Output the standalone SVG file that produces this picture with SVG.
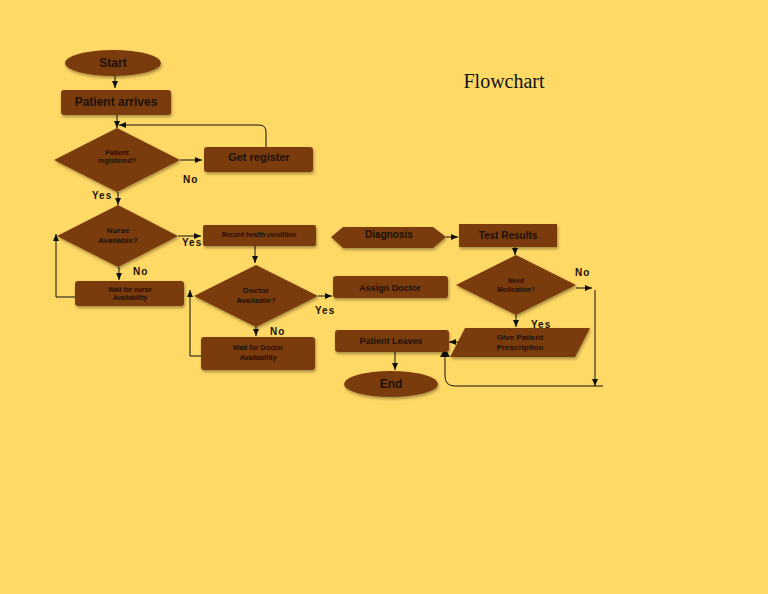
<svg xmlns="http://www.w3.org/2000/svg" width="768" height="594" viewBox="0 0 768 594">
<style>
.s{fill:#7a3b10;filter:url(#sh)}
.t{font-family:"Liberation Sans",Arial,sans-serif;font-weight:bold;fill:#1a1008;text-anchor:middle}
.l{font-family:"Liberation Sans",Arial,sans-serif;font-weight:bold;fill:#1a1008;font-size:10px;letter-spacing:1px}
.c{fill:none;stroke:#111;stroke-width:1}
</style>
<defs>
<marker id="a" markerWidth="8" markerHeight="8" refX="7" refY="4" orient="auto" markerUnits="userSpaceOnUse"><path d="M0,1 L7,4 L0,7Z" fill="#111"/></marker>
<filter id="sh" x="-10%" y="-10%" width="130%" height="140%"><feDropShadow dx="1" dy="2" stdDeviation="1.5" flood-color="#000" flood-opacity="0.35"/></filter>
</defs>
<rect width="768" height="594" fill="#ffd966"/>
<text x="504" y="88" font-family="Liberation Serif,serif" font-size="20" text-anchor="middle" fill="#111">Flowchart</text>
<g id="connectors">
<path class="c" d="M115,76 V88" marker-end="url(#a)"/>
<path class="c" d="M117,115 V128" marker-end="url(#a)"/>
<path class="c" stroke-width="2" d="M266,147 V132 Q266,125 259,125 H119" marker-end="url(#a)"/>
<path class="c" d="M180,160 H202" marker-end="url(#a)"/>
<path class="c" d="M118,192 V205" marker-end="url(#a)"/>
<path class="c" d="M178,236 H201" marker-end="url(#a)"/>
<path class="c" d="M119,267 V280" marker-end="url(#a)"/>
<path class="c" stroke-width="1.3" d="M75,297 H56 V234" marker-end="url(#a)"/>
<path class="c" d="M255,246 V263" marker-end="url(#a)"/>
<path class="c" d="M318,296 H332" marker-end="url(#a)"/>
<path class="c" d="M256,327 V336" marker-end="url(#a)"/>
<path class="c" d="M201,356 H190 V290" marker-end="url(#a)"/>
<path class="c" d="M446,237 H458" marker-end="url(#a)"/>
<path class="c" d="M515,247 V255" marker-end="url(#a)"/>
<path class="c" d="M576,288 H592" marker-end="url(#a)"/>
<path class="c" d="M595,290 V386" marker-end="url(#a)"/>
<path class="c" d="M516,315 V327" marker-end="url(#a)"/>
<path class="c" d="M462,342 H449" marker-end="url(#a)"/>
<path class="c" stroke-width="3" d="M603,386 H455 Q445,386 445,376 V352"/>
<path d="M445,348 L440,357 L450,357Z" fill="#111"/>
<path class="c" d="M395,352 V370" marker-end="url(#a)"/>
</g>
<g id="start"><ellipse class="s" cx="113" cy="63" rx="48" ry="13"/><text class="t" x="113" y="67" font-size="12">Start</text></g>
<g id="arrives"><rect class="s" x="61" y="90" width="110" height="25" rx="3"/><text class="t" x="116" y="106" font-size="12">Patient arrives</text></g>
<g id="registered"><polygon class="s" points="117,128 180,160 117,192 54,160"/><text class="t" x="117" y="155" font-size="7">Patient</text><text class="t" x="117" y="163" font-size="7">registered?</text></g>
<g id="getreg"><rect class="s" x="204" y="147" width="109" height="25" rx="3"/><text class="t" x="259" y="161" font-size="11">Get register</text></g>
<g id="nurse"><polygon class="s" points="118,205 178,236 118,267 57,236"/><text class="t" x="118" y="233" font-size="8">Nurse</text><text class="t" x="118" y="243" font-size="8">Available?</text></g>
<g id="record"><rect class="s" x="203" y="225" width="113" height="21" rx="2"/><text class="t" x="259" y="237" font-size="6.5">Record health condition</text></g>
<g id="waitnurse"><rect class="s" x="75" y="281" width="109" height="25" rx="3"/><text class="t" x="130" y="292" font-size="6.5">Wait for nurse</text><text class="t" x="130" y="300" font-size="6.5">Availability</text></g>
<g id="doctor"><polygon class="s" points="256,265 318,296 256,327 194,296"/><text class="t" x="256" y="293" font-size="8">Doctor</text><text class="t" x="256" y="303" font-size="8">Available?</text></g>
<g id="assign"><rect class="s" x="333" y="276" width="115" height="22" rx="3"/><text class="t" x="390" y="291" font-size="9">Assign Doctor</text></g>
<g id="waitdoc"><rect class="s" x="201" y="337" width="114" height="33" rx="3"/><text class="t" x="258" y="350" font-size="7">Wait for Doctor</text><text class="t" x="258" y="360" font-size="7">Availability</text></g>
<g id="diagnosis"><polygon class="s" points="343,227 433,227 446,237 433,248 343,248 331,237"/><text class="t" x="389" y="238" font-size="10">Diagnosis</text></g>
<g id="test"><rect class="s" x="459" y="224" width="98" height="23"/><text class="t" x="508" y="239" font-size="10">Test Results</text></g>
<g id="medication"><polygon class="s" points="516,255 576,285 516,315 456,285"/><text class="t" x="516" y="283" font-size="6.5">Need</text><text class="t" x="516" y="292" font-size="6.5">Medication?</text></g>
<g id="prescription"><polygon class="s" points="465,328 590,328 575,357 450,357"/><text class="t" x="520" y="340" font-size="8">Give Patient</text><text class="t" x="520" y="350" font-size="8">Prescription</text></g>
<g id="leaves"><rect class="s" x="335" y="330" width="114" height="22" rx="3"/><text class="t" x="391" y="344" font-size="9">Patient Leaves</text></g>
<g id="end"><ellipse class="s" cx="391" cy="384" rx="47" ry="13"/><text class="t" x="391" y="388" font-size="12">End</text></g>
<g id="labels">
<text class="l" x="183" y="183">No</text>
<text class="l" x="92" y="199">Yes</text>
<text class="l" x="182" y="246">Yes</text>
<text class="l" x="133" y="275">No</text>
<text class="l" x="270" y="335">No</text>
<text class="l" x="315" y="314">Yes</text>
<text class="l" x="575" y="276">No</text>
<text class="l" x="531" y="328">Yes</text>
</g>
</svg>
